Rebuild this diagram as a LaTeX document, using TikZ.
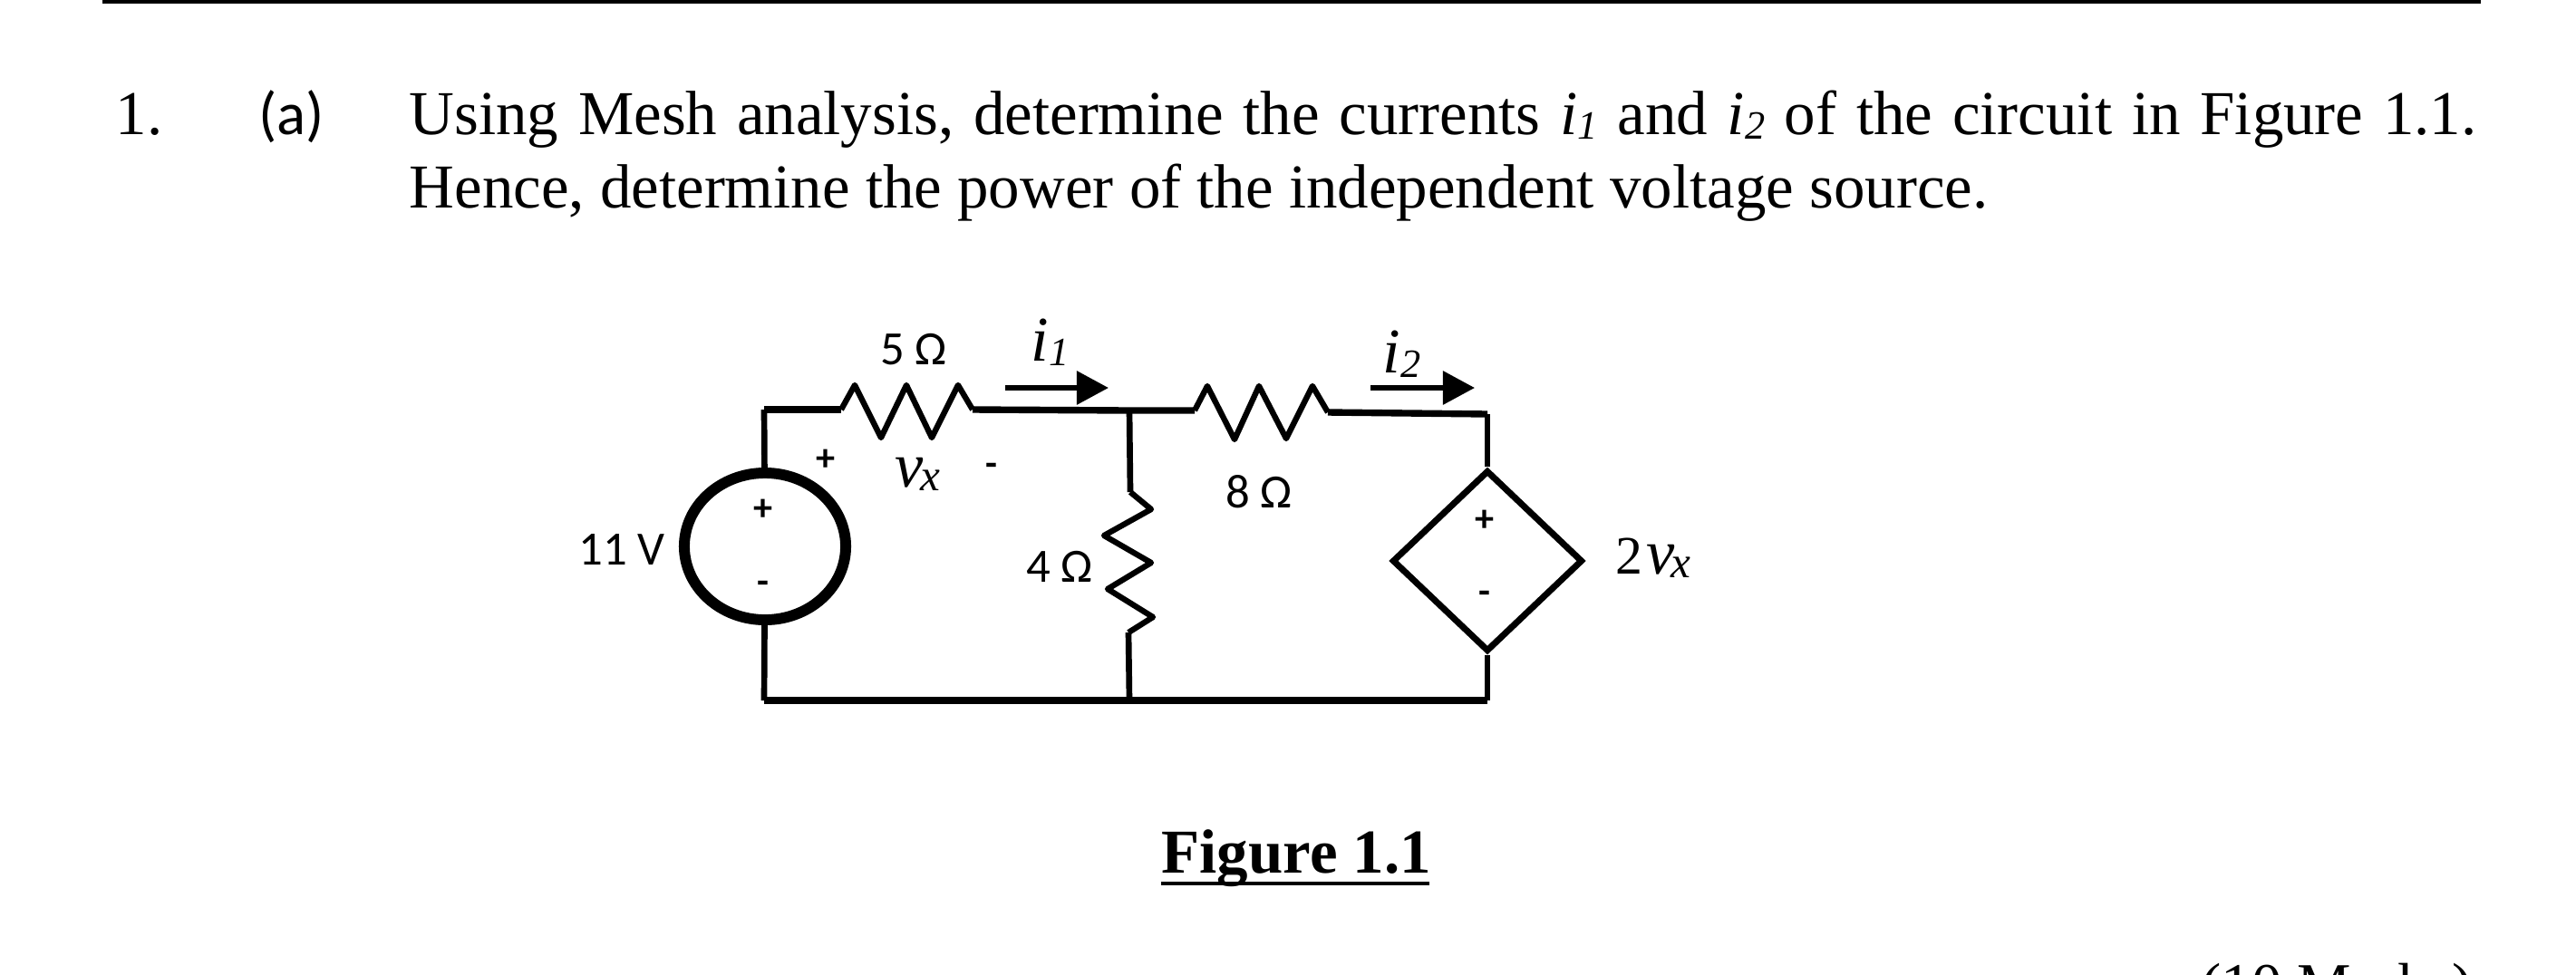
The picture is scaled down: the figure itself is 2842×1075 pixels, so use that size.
\documentclass[tikz,border=0pt]{standalone}
\usepackage{fontspec}
\setmainfont{Liberation Serif}
\newfontfamily\calfont{Carlito}
\usetikzlibrary{arrows.meta}
\usetikzlibrary{shapes.geometric}
\newcommand{\curr}[1]{\textit{i}\raisebox{-1.7pt}{\fontsize{12.6}{12.6}\selectfont\textit{#1}}}
\newcommand{\volt}{\textit{v}\kern-1pt\raisebox{-1.4pt}{\fontsize{14}{14}\selectfont\textit{x}}}
\tikzset{
  wire/.style={black, line width=1.9pt},
  heavy/.style={black, line width=2.1pt},
  zig/.style={black, line width=1.8pt, line join=round},
  bodytext/.style={inner sep=0pt, anchor=base west, font=\fontsize{19.6}{24}\selectfont},
  calib/.style={inner sep=0pt, font=\calfont\fontsize{15}{18}\selectfont},
  sym/.style={inner sep=0pt, anchor=base west, font=\fontsize{20}{24}\selectfont},
  sign/.style={inner sep=0pt, font=\calfont\bfseries\fontsize{12}{14}\selectfont},
  flow/.style={black, line width=1.7pt, -{Triangle[length=0.35cm,width=0.36cm]}},
  vsource/.style={draw, black, ellipse, line width=3.4pt, inner sep=0pt, minimum width=1.78cm, minimum height=1.62cm},
  depsource/.style={draw, black, diamond, line width=2pt, inner sep=0pt, minimum width=2.1cm, minimum height=2cm}
}
\begin{document}
\begin{tikzpicture}[x=0.01cm, y=-0.01cm]
            \clip (0,0) rectangle (2842,1075);
            \coordinate (ruleL) at (113,2);
            \coordinate (ruleR) at (2737,2);
            \draw[black, line width=1.4pt] (ruleL) -- (ruleR);
            \node[bodytext] (num) at (127,148) {1.};
            \node[bodytext, font=\calfont\fontsize{19}{24}\selectfont] (part) at (285,148) {(a)};
            \node[bodytext] (lineA) at (451,148) {\spaceskip=6.2pt\relax Using Mesh analysis, determine the currents \curr{1} and \curr{2} of the circuit in Figure 1.1.};
            \node[bodytext] (lineB) at (451,229) {Hence, determine the power of the independent voltage source.};
            \node[bodytext, font=\bfseries\fontsize{19.6}{24}\selectfont] (figcap) at (1281,963) {Figure 1.1};
            \node[bodytext, font=\fontsize{19}{24}\selectfont] (marks) at (2428,1109) {(10 Marks)};
            \coordinate (ulL) at (1281,975);
            \coordinate (ulR) at (1577,975);
            \draw[black, line width=1.4pt] (ulL) -- (ulR);

            \coordinate (tl) at (843,452);
            \coordinate (tm) at (1246,453);
            \coordinate (tr) at (1641,457);
            \coordinate (bl) at (843,773);
            \coordinate (bm) at (1246,773);
            \coordinate (br) at (1641,773);
            \coordinate (rAa) at (928,452);
            \coordinate (rAb) at (1073,452);
            \coordinate (rBa) at (1318,453);
            \coordinate (rBb) at (1465,455);
            \coordinate (rCa) at (1247,543);
            \coordinate (rCb) at (1245,698);

            \node[vsource] (src) at (844,603) {};
            \node[depsource] (dep) at (1641,619) {};

            \draw[wire] (tl) -- (src);
            \draw[wire] (src) -- (bl);
            \draw[heavy] (tl) -- (rAa);
            \draw[heavy] (rAb) -- (tm) -- (rBa);
            \draw[heavy] (rBb) -- (tr);
            \draw[wire] (tr) -- (dep);
            \draw[wire] (dep) -- (br);
            \draw[heavy] (bl) -- (bm) -- (br);
            \draw[wire] (tm) -- (rCa);
            \draw[wire] (rCb) -- (bm);

            \draw[zig] (rAa) -- (943,425) -- (972,483) -- (1000,425) -- (1028,483) -- (1057,425) -- (rAb);
            \draw[zig] (rBa) -- (1332,426) -- (1362,485) -- (1389,426) -- (1419,484) -- (1448,426) -- (rBb);
            \draw[zig] (rCa) -- (1270,562) -- (1218,591) -- (1270,621) -- (1222,650) -- (1272,681) -- (rCb);

            \coordinate (iAs) at (1109,428);
            \coordinate (iAe) at (1223,428);
            \coordinate (iBs) at (1512,428);
            \coordinate (iBe) at (1627,428);
            \draw[flow] (iAs) -- (iAe);
            \draw[flow] (iBs) -- (iBe);

            \node[calib] (rAlab) at (1008,386) {5 Ω};
            \node[calib] (rBlab) at (1389,543) {8 Ω};
            \node[calib] (rClab) at (1169,625) {4 Ω};
            \node[calib] (srclab) at (686,607) {11 V};
            \node[sym] (iAlab) at (1137,398) {\curr{1}};
            \node[sym] (iBlab) at (1525,411) {\curr{2}};
            \node[sym] (vxlab) at (987,537) {\volt};
            \node[sym] (deplab) at (1782,633) {{\fontsize{17}{20}\selectfont 2}\kern1pt\volt};
            \node[sign] (vxp) at (911,508) {+};
            \node[sign] (vxm) at (1094,518) {-};
            \node[sign] (srcp) at (842,563) {+};
            \node[sign] (srcm) at (842,648) {-};
            \node[sign] (depp) at (1638,575) {+};
            \node[sign] (depm) at (1638,659) {-};
        \end{tikzpicture}
\end{document}
